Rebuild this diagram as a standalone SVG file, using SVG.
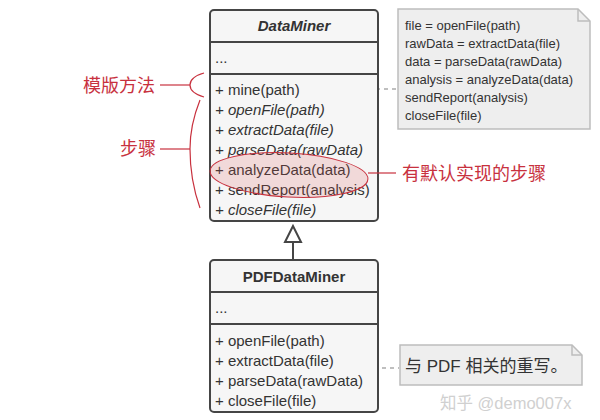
<svg xmlns="http://www.w3.org/2000/svg" width="600" height="420" viewBox="0 0 600 420">
<style>
.box{fill:#f6f6f6;stroke:#454545;stroke-width:2}
.sep{stroke:#454545;stroke-width:2}
.t{font-family:"Liberation Sans",Arial,sans-serif;font-size:15px;fill:#333}
.i{font-style:italic}
.h{font-family:"Liberation Sans",Arial,sans-serif;font-size:15px;font-weight:bold;fill:#333;text-anchor:middle}
.note{fill:#eeeeee;stroke:#bdbdbd;stroke-width:1.5}
.nt{font-family:"Liberation Sans",Arial,sans-serif;font-size:13px;fill:#333}
.red{font-family:"Noto Sans CJK SC",sans-serif;font-size:18px;fill:#c8313e}
.rl{stroke:#c8313e;stroke-width:1.2;fill:none}
.dash{stroke:#aaaaaa;stroke-width:1.5;stroke-dasharray:4,4;fill:none}
</style>
<g id="connectors">
<line class="dash" x1="320" y1="89" x2="397" y2="89"/>
<circle cx="315" cy="89" r="4" fill="#fff" stroke="#aaa" stroke-width="1.5"/>
<line class="dash" x1="382" y1="368" x2="399" y2="368"/>
<line x1="293" y1="242" x2="293" y2="260" stroke="#454545" stroke-width="2"/>
<polygon points="293,226 285,242 301,242" fill="#fff" stroke="#454545" stroke-width="2"/>
</g>
<g id="DataMiner">
<rect class="box" x="210" y="10" width="168" height="211" rx="4"/>
<line class="sep" x1="210" y1="42" x2="378" y2="42"/>
<line class="sep" x1="210" y1="74" x2="378" y2="74"/>
<text class="h i" x="294" y="31">DataMiner</text>
<text class="t" x="215" y="63">...</text>
<text class="t" x="215" y="95">+ mine(path)</text>
<text class="t i" x="215" y="115">+ openFile(path)</text>
<text class="t i" x="215" y="135">+ extractData(file)</text>
<text class="t i" x="215" y="155">+ parseData(rawData)</text>
<text class="t" x="215" y="175">+ analyzeData(data)</text>
<text class="t" x="215" y="195">+ sendReport(analysis)</text>
<text class="t i" x="215" y="215">+ closeFile(file)</text>
</g>
<g id="PDFDataMiner">
<rect class="box" x="210" y="260" width="168" height="152" rx="4"/>
<line class="sep" x1="210" y1="292" x2="378" y2="292"/>
<line class="sep" x1="210" y1="324" x2="378" y2="324"/>
<text class="h" x="294" y="282">PDFDataMiner</text>
<text class="t" x="215" y="313">...</text>
<text class="t" x="215" y="346">+ openFile(path)</text>
<text class="t" x="215" y="366">+ extractData(file)</text>
<text class="t" x="215" y="386">+ parseData(rawData)</text>
<text class="t" x="215" y="406">+ closeFile(file)</text>
</g>
<g id="note1">
<path class="note" d="M398,9 H578 L590,21 V129 H398 Z"/>
<path d="M578,9 V21 H590" fill="none" stroke="#bdbdbd" stroke-width="1.5"/>
<text class="nt" x="405" y="30">file = openFile(path)</text>
<text class="nt" x="405" y="48">rawData = extractData(file)</text>
<text class="nt" x="405" y="66">data = parseData(rawData)</text>
<text class="nt" x="405" y="84">analysis = analyzeData(data)</text>
<text class="nt" x="405" y="102">sendReport(analysis)</text>
<text class="nt" x="405" y="120">closeFile(file)</text>
</g>
<g id="note2">
<path class="note" d="M400,345 H572 L582,355 V385 H400 Z"/>
<path d="M572,345 V355 H582" fill="none" stroke="#bdbdbd" stroke-width="1.5"/>
<text x="405" y="372" font-family="'Liberation Sans','Noto Sans CJK SC',sans-serif" font-size="17" fill="#333">与 PDF 相关的重写。</text>
</g>
<g id="annotations">
<ellipse cx="289" cy="175" rx="79" ry="22" transform="rotate(3 289 175)" fill="#e05a5a" fill-opacity="0.18" stroke="#c8313e" stroke-width="1"/>
<line class="rl" x1="368" y1="173" x2="396" y2="173"/>
<text class="red" x="402" y="180">有默认实现的步骤</text>
<text class="red" x="83" y="92">模版方法</text>
<line class="rl" x1="160" y1="85" x2="190" y2="85"/>
<path class="rl" d="M204,73 Q190,77 190,85 Q190,93 204,97"/>
<text class="red" x="120" y="155">步骤</text>
<line class="rl" x1="160" y1="149" x2="190" y2="149"/>
<path class="rl" d="M200,100 Q190,125 190,149 Q190,180 200,208"/>
</g>
<text x="440" y="409" font-family="'Liberation Sans','Noto Sans CJK SC',sans-serif" font-size="16.5" fill="#d0d0d0">知乎 @demo007x</text>
</svg>
